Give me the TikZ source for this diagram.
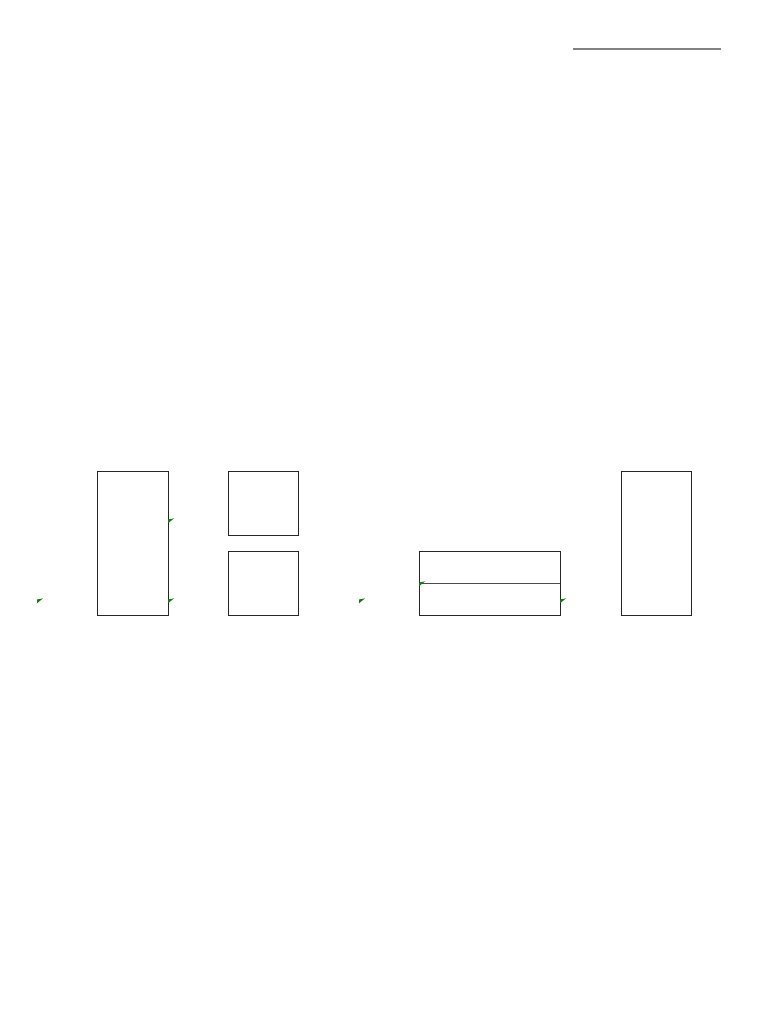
\documentclass[tikz,border=0pt]{standalone}
\usetikzlibrary{positioning}
\definecolor{pingreen}{RGB}{20,120,20}
\definecolor{linegray}{RGB}{130,130,130}
\tikzset{
  blockbox/.style={draw=black!85, line width=0.9pt, fill=white, inner sep=0pt, outer sep=0pt},
  pinmark/.style={fill=pingreen, draw=none},
  topline/.style={draw=linegray, line width=1.3pt}
}
\begin{document}
\begin{tikzpicture}[x=1pt,y=-1pt]
\useasboundingbox (0,0) rectangle (768,1024);
\fill[white] (0,0) rectangle (768,1024);
% boxes
\node[blockbox, minimum width=71pt, minimum height=144pt] (A) at (132.5,543) {};
\node[blockbox, minimum width=70pt, minimum height=64pt] (B1) at (263,503) {};
\node[blockbox, minimum width=70pt, minimum height=64pt] (B2) at (263,583) {};
\node[blockbox, minimum width=141pt, minimum height=64pt] (C) at (489.5,583) {};
\node[blockbox, minimum width=70pt, minimum height=144pt] (D) at (656,543) {};
\draw[line width=0.9pt, draw=black!70] (C.west) -- (C.east);
% top line
\coordinate (L1) at (573,49);
\coordinate (L2) at (721,49);
\draw[topline] (L1) -- (L2);
% pin markers
\foreach \n/\px/\py in {m1/37/601, m2/168/521, m3/168/601, m4/359/601, m5/419/584, m6/560/601}{
  \coordinate (\n) at (\px,\py);
  \fill[pinmark] (\n) ++(0,-1.5) -- ++(6,-1.2) -- ++(-6,5) -- cycle;
}
\end{tikzpicture}
\end{document}
